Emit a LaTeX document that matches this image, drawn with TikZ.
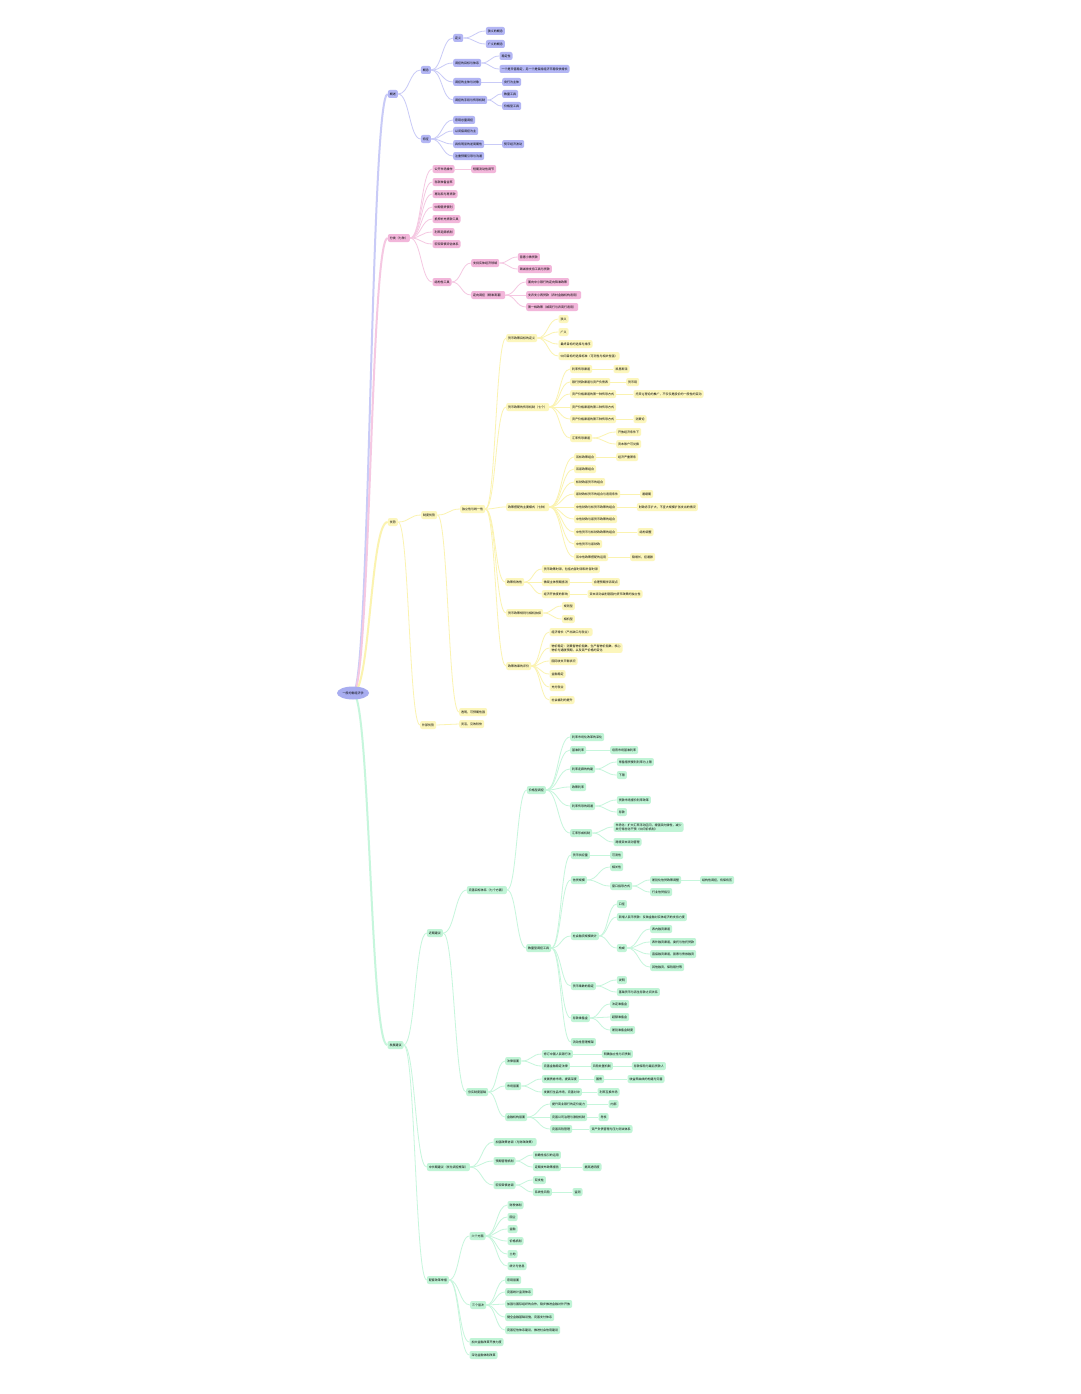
\documentclass[tikz,border=0pt]{standalone}
\usepackage{fontspec}
\setmainfont{Noto Sans CJK SC}
\usetikzlibrary{calc,shapes.geometric}
\pgfdeclarelayer{back}
\pgfdeclarelayer{bg}
\pgfsetlayers{back,bg,main}
\definecolor{bF}{HTML}{B3B6F4}
\definecolor{bE}{HTML}{C9CBF7}
\definecolor{pF}{HTML}{F2B6DA}
\definecolor{pE}{HTML}{F5C8E2}
\definecolor{yF}{HTML}{FCF6BC}
\definecolor{yE}{HTML}{FBF3B0}
\definecolor{gF}{HTML}{C0F4D6}
\definecolor{gE}{HTML}{C6F6DC}
\definecolor{rootF}{HTML}{A8ADF0}
\newcommand\fs{\fontsize{3}{3.8}\selectfont}
\newcommand\lnk[3]{\draw[#1] let \p1=(#2.east),\p2=(#3.west),\n1={0.5*(\x2-\x1)} in (\p1) .. controls +(\n1,0pt) and +(-\n1,0pt) .. (\p2);}
\newcommand\rlnk[3]{\draw[#1] let \p1=(#2.center),\p2=(#3.west),\n1={0.5*(\x2-\x1)} in (\p1) .. controls +(\n1,0pt) and +(-\n1,0pt) .. (\p2);}
\tikzset{
 base/.style={anchor=west, rounded corners=2pt, inner xsep=2pt, inner ysep=0pt, minimum height=8pt, font=\fs, text=black},
 two/.style={align=left, inner ysep=1.5pt},
 bn/.style={base, fill=bF},
 pn/.style={base, fill=pF},
 yn/.style={base, fill=yF},
 gn/.style={base, fill=gF},
 be/.style={draw=bE, line width=0.8pt},
 pe/.style={draw=pE, line width=0.8pt},
 ye/.style={draw=yE, line width=0.8pt},
 ge/.style={draw=gE, line width=0.8pt},
}
\begin{document}
\begin{tikzpicture}[x=1pt,y=-1pt]
\useasboundingbox (0,0) rectangle (1080,1394);
\begin{pgfonlayer}{back}
\fill[white] (0,0) rectangle (1080,1394);
\end{pgfonlayer}
% root
\node[ellipse, fill=rootF, minimum width=32pt, minimum height=13pt, inner sep=0pt, font=\fs] (root) at (353,693) {一般均衡经济学};
% ---------- blue
\node[bn] (B1) at (387.7,94) {概述};
\node[bn] (B2a) at (420.7,70) {概念};
\node[bn] (B2b) at (420.7,139) {特征};
\node[bn] (B3a) at (453,38) {定义};
\node[bn] (B3b) at (453,63) {调控的目标与体系};
\node[bn] (B3c) at (453,82) {调控的主体与对象};
\node[bn] (B3d) at (453,100) {调控的手段与传导机制};
\node[bn] (B4a) at (485.7,31) {狭义的概念};
\node[bn] (B4b) at (485.7,44) {广义的概念};
\node[bn] (B4c) at (499.3,56) {稳定性};
\node[bn] (B4d) at (499.3,69) {一个是币值稳定，另一个是保持经济平稳较快增长};
\node[bn] (B4e) at (502,82) {央行为主体};
\node[bn] (B4f) at (502,94) {数量工具};
\node[bn] (B4g) at (502,106) {价格型工具};
\node[bn] (B3e) at (453,120) {宏观总量调控};
\node[bn] (B3f) at (453,131) {以间接调控为主};
\node[bn] (B3g) at (453,144) {具有明显的逆周期性};
\node[bn] (B3h) at (453,156) {注重预期引导与沟通};
\node[bn] (B4h) at (502,144) {熨平经济波动};
% ---------- pink
\node[pn] (P1) at (387.7,238) {分类（七种）};
\node[pn] (P2a) at (432.3,169) {公开市场操作};
\node[pn] (P2b) at (432.3,182) {存款准备金率};
\node[pn] (P2c) at (432.3,194) {再贴现与再贷款};
\node[pn] (P2d) at (432.3,207) {中期借贷便利};
\node[pn] (P2e) at (432.3,219) {抵押补充贷款工具};
\node[pn] (P2f) at (432.3,232) {利率走廊机制};
\node[pn] (P2g) at (432.3,244) {宏观审慎评估体系};
\node[pn] (P2h) at (432.3,282) {结构性工具};
\node[pn] (P3a) at (471,169) {短期流动性调节};
\node[pn] (P3b) at (471,263) {支持实体经济领域};
\node[pn] (P3c) at (471,295) {定向调控（精准滴灌）};
\node[pn] (P4a) at (517.7,257) {普惠小微贷款};
\node[pn] (P4b) at (517.7,269) {碳减排支持工具与贷款};
\node[pn] (P4c) at (526,282) {面向中小银行的定向降准政策};
\node[pn] (P4d) at (526,295) {支农支小再贷款（农村金融机构适用）};
\node[pn] (P4e) at (526,307) {第一档政策（城商行与农商行适用）};
% ---------- yellow
\node[yn] (Y1) at (387.7,522) {优势};
\node[yn] (Y2a) at (421,515) {制度优势};
\node[yn] (Y2b) at (420,725) {外部优势};
\node[yn] (Y3a) at (460,509) {独立性与统一性};
\node[yn] (Y3b) at (459,712) {透明，可预期性强};
\node[yn] (Y3c) at (459,724) {灵活，见效较快};
\node[yn] (Y4a) at (506,338) {货币政策目标的定义};
\node[yn] (Y5a) at (558.3,319) {狭义};
\node[yn] (Y5b) at (558.3,332) {广义};
\node[yn] (Y5c) at (558.3,344) {最终目标的选择与排序};
\node[yn] (Y5d) at (558.3,356) {中间目标的选择标准（可测性与相关性强）};
\node[yn] (Y4b) at (506,407) {货币政策的传导机制（七个）};
\node[yn] (Y5e) at (570,369) {利率传导渠道};
\node[yn] (Y5f) at (570,382) {银行贷款渠道与资产负债表};
\node[yn] (Y5g) at (570,394) {资产价格渠道的第一种传导方式};
\node[yn] (Y5h) at (570,407) {资产价格渠道的第二种传导方式};
\node[yn] (Y5i) at (570,419) {资产价格渠道的第三种传导方式};
\node[yn] (Y5j) at (570,438) {汇率传导渠道};
\node[yn] (Y6a) at (613.3,369) {凯恩斯派};
\node[yn] (Y6b) at (626,382) {货币观};
\node[yn] (Y6c) at (633.3,394) {托宾Ｑ理论的推广，不仅仅是股价的一般性的变动};
\node[yn] (Y6d) at (633.3,419) {消费论};
\node[yn] (Y6e) at (616,432) {开放经济条件下};
\node[yn] (Y6f) at (616,444) {资本账户可兑换};
\node[yn] (Y4c) at (506,507) {政策搭配的主要模式（七种）};
\node[yn] (Y5k) at (574,457) {双松政策组合};
\node[yn] (Y5l) at (574,469) {双紧政策组合};
\node[yn] (Y5m) at (574,482) {松财政紧货币的组合};
\node[yn] (Y5n) at (574,494) {紧财政松货币的组合与适用条件};
\node[yn] (Y5o) at (574,507) {中性财政与松货币政策的组合};
\node[yn] (Y5p) at (574,519) {中性财政与紧货币政策的组合};
\node[yn] (Y5q) at (574,532) {中性货币与松财政政策的组合};
\node[yn] (Y5r) at (574,544) {中性货币与紧财政};
\node[yn] (Y5s) at (574,557) {双中性政策搭配的运用};
\node[yn] (Y6g) at (616,457) {经济严重萧条};
\node[yn] (Y6h) at (640,494) {通缩期};
\node[yn] (Y6i) at (636.7,507) {财政赤字扩大，不宜大规模扩张支出的情况};
\node[yn] (Y6j) at (637.3,532) {结构调整};
\node[yn] (Y6k) at (630,557) {稳增长，控通胀};
\node[yn] (Y4d) at (505,582) {政策有效性};
\node[yn] (Y5t) at (541.7,569) {货币政策时滞，包括内部时滞和外部时滞};
\node[yn] (Y5u) at (541.7,582) {微观主体预期抵消};
\node[yn] (Y5v) at (541.7,594) {经济开放度的影响};
\node[yn] (Y6l) at (591.7,582) {合理预期学派观点};
\node[yn] (Y6m) at (587.3,594) {资本流动会削弱国内货币政策的独立性};
\node[yn] (Y4e) at (506,613) {货币政策规则与相机抉择};
\node[yn] (Y5w) at (561.7,606) {规则型};
\node[yn] (Y5x) at (561.7,619) {相机型};
\node[yn] (Y4f) at (506,666) {政策效果的评价};
\node[yn] (Y5y) at (549.3,632) {经济增长（产出缺口与就业）};
\node[yn,two] (Y5z) at (549.3,648) {物价稳定：消费者物价指数、生产者物价指数、核心\\物价与通胀预期，以及资产价格的变化};
\node[yn] (Y5aa) at (549.3,661) {国际收支平衡状况};
\node[yn] (Y5ab) at (549.3,674) {金融稳定};
\node[yn] (Y5ac) at (549.3,687) {充分就业};
\node[yn] (Y5ad) at (549.3,700) {社会福利的提升};
% ---------- green
\node[gn] (G1) at (387.3,1045) {发展建议};
\node[gn] (G2a) at (426.7,933) {近期建议};
\node[gn] (G2b) at (426.7,1167) {中长期建议（优化调控框架）};
\node[gn] (G2c) at (426.7,1280) {配套改革举措};
\node[gn] (G3a) at (466.7,890) {完善目标体系（七个方面）};
\node[gn] (G3b) at (466,1092) {夯实制度基础};
\node[gn] (G4a) at (526.7,790) {价格型调控};
\node[gn] (G5a) at (570,737) {利率市场化改革的深化};
\node[gn] (G5b) at (570,750) {基准利率};
\node[gn] (G5c) at (570,769) {利率走廊的构建};
\node[gn] (G5d) at (570,787) {政策利率};
\node[gn] (G5e) at (570,806) {利率传导的疏通};
\node[gn] (G5f) at (570,833) {汇率形成机制};
\node[gn] (G6a) at (610,750) {培育市场基准利率};
\node[gn] (G6b) at (616.7,762) {常备借贷便利利率为上限};
\node[gn] (G6c) at (616.7,775) {下限};
\node[gn] (G6d) at (616.7,800) {贷款市场报价利率改革};
\node[gn] (G6e) at (616.7,812) {存款};
\node[gn,two] (G6f) at (613.3,827) {市场化：扩大汇率浮动区间，增强双向弹性，减少\\央行常态化干预（中间价机制）};
\node[gn] (G6g) at (613.3,842) {跨境资本流动管理};
\node[gn] (G4b) at (526,948) {数量型调控工具};
\node[gn] (G5g) at (570.7,855) {货币供应量};
\node[gn] (G5h) at (570.7,880) {信贷规模};
\node[gn] (G5i) at (570.7,936) {社会融资规模统计};
\node[gn] (G5j) at (570.7,986) {货币乘数的稳定};
\node[gn] (G5k) at (570.7,1018) {存款准备金};
\node[gn] (G5l) at (570.7,1042) {流动性管理框架};
\node[gn] (G6h) at (610,855) {可测性};
\node[gn] (G6i) at (610,867) {相关性};
\node[gn] (G6j) at (610,886) {窗口指导方式};
\node[gn] (G7a) at (650,880) {差别化信贷政策调整};
\node[gn] (G7b) at (650,892) {行业信贷指引};
\node[gn] (G8a) at (700,880) {结构性调控，有保有压};
\node[gn] (G6k) at (616.7,904) {口径};
\node[gn] (G6l) at (616.7,917) {新增人民币贷款：反映金融对实体经济的支持力度};
\node[gn] (G6m) at (616.7,948) {构成};
\node[gn] (G7c) at (650,929) {表内融资渠道};
\node[gn] (G7d) at (650,942) {表外融资渠道，委托与信托贷款};
\node[gn] (G7e) at (650,954) {直接融资渠道，股票与债券融资};
\node[gn] (G7f) at (650,967) {其他融资，保险赔付等};
\node[gn] (G6n) at (616.7,980) {说明};
\node[gn] (G6o) at (616.7,992) {基础货币与派生存款之间关系};
\node[gn] (G6p) at (610,1004) {法定准备金};
\node[gn] (G6q) at (610,1017) {超额准备金};
\node[gn] (G6r) at (610,1030) {差别准备金制度};
\node[gn] (G4c) at (505,1061) {法律层面};
\node[gn] (G4d) at (505,1086) {市场层面};
\node[gn] (G4e) at (505,1117) {金融机构层面};
\node[gn] (G5m) at (541.7,1054) {修订中国人民银行法};
\node[gn] (G5n) at (541.7,1066) {完善金融稳定法律};
\node[gn] (G5o) at (541.7,1079) {发展债券市场，提高深度};
\node[gn] (G5p) at (541.7,1092) {发展衍生品市场，完善对冲};
\node[gn] (G5q) at (550,1104) {提升商业银行的定价能力};
\node[gn] (G5r) at (550,1117) {完善公司治理与激励机制};
\node[gn] (G5s) at (550,1129) {完善风险管理};
\node[gn] (G6s) at (601.7,1054) {明确独立性与问责制};
\node[gn] (G6t) at (590.7,1066) {风险处置机制};
\node[gn] (G6u) at (594,1079) {国债};
\node[gn] (G6v) at (597.3,1092) {利率互换市场};
\node[gn] (G6w) at (608.3,1104) {内部};
\node[gn] (G6x) at (598.3,1117) {考核};
\node[gn] (G6y) at (589.3,1129) {资产负债管理与压力测试体系};
\node[gn] (G7g) at (631.7,1066) {存款保险与最后贷款人};
\node[gn] (G7h) at (627.3,1079) {收益率曲线的构建与完善};
\node[gn] (G3c) at (493.3,1142) {加强政策协调（与财政政策）};
\node[gn] (G3d) at (493.3,1161) {预期管理机制};
\node[gn] (G3e) at (493.3,1185) {宏观审慎协调};
\node[gn] (G4f) at (532.7,1155) {前瞻性指引的运用};
\node[gn] (G4g) at (532.7,1167) {定期发布政策报告};
\node[gn] (G4h) at (532.7,1180) {双支柱};
\node[gn] (G4i) at (532.7,1192) {系统性风险};
\node[gn] (G5t) at (582.3,1167) {提高透明度};
\node[gn] (G5u) at (572.3,1192) {监测};
\node[gn] (G3f) at (469.3,1236) {六个方面};
\node[gn] (G3g) at (470,1305) {三个层次};
\node[gn] (G3h) at (469.3,1342) {加大金融改革开放力度};
\node[gn] (G3i) at (469.3,1355) {深化金融体制改革};
\node[gn] (G4j) at (507.3,1205) {财税体制};
\node[gn] (G4k) at (507.3,1217) {国企};
\node[gn] (G4l) at (507.3,1229) {金融};
\node[gn] (G4m) at (507.3,1241) {价格机制};
\node[gn] (G4n) at (507.3,1254) {土地};
\node[gn] (G4o) at (507.3,1266) {统计与信息};
\node[gn] (G4p) at (505,1280) {宏观层面};
\node[gn] (G4q) at (505,1292) {完善统计监测体系};
\node[gn] (G4r) at (505,1304) {加强与国际组织的合作，稳步推进金融对外开放};
\node[gn] (G4s) at (505,1317) {健全金融基础设施，完善支付体系};
\node[gn] (G4t) at (505,1330) {完善征信体系建设，推进社会信用建设};
% ---------- connectors
\begin{pgfonlayer}{bg}
\rlnk{draw=bE,line width=2pt}{root}{B1}
\rlnk{draw=pE,line width=2pt}{root}{P1}
\rlnk{draw=yE,line width=2pt}{root}{Y1}
\rlnk{draw=gE,line width=2pt}{root}{G1}
\foreach \a/\b in {B1/B2a,B1/B2b,B2a/B3a,B2a/B3b,B2a/B3c,B2a/B3d,B3a/B4a,B3a/B4b,B3b/B4c,B3b/B4d,B3c/B4e,B3d/B4f,B3d/B4g,B2b/B3e,B2b/B3f,B2b/B3g,B2b/B3h,B3g/B4h}{\lnk{be}{\a}{\b}}
\foreach \a/\b in {P1/P2a,P1/P2b,P1/P2c,P1/P2d,P1/P2e,P1/P2f,P1/P2g,P1/P2h,P2a/P3a,P2h/P3b,P2h/P3c,P3b/P4a,P3b/P4b,P3c/P4c,P3c/P4d,P3c/P4e}{\lnk{pe}{\a}{\b}}
\foreach \a/\b in {Y1/Y2a,Y1/Y2b,Y2a/Y3a,Y2a/Y3b,Y2b/Y3c,Y3a/Y4a,Y3a/Y4b,Y3a/Y4c,Y3a/Y4d,Y3a/Y4e,Y3a/Y4f,Y4a/Y5a,Y4a/Y5b,Y4a/Y5c,Y4a/Y5d,Y4b/Y5e,Y4b/Y5f,Y4b/Y5g,Y4b/Y5h,Y4b/Y5i,Y4b/Y5j,Y5e/Y6a,Y5f/Y6b,Y5g/Y6c,Y5i/Y6d,Y5j/Y6e,Y5j/Y6f,Y4c/Y5k,Y4c/Y5l,Y4c/Y5m,Y4c/Y5n,Y4c/Y5o,Y4c/Y5p,Y4c/Y5q,Y4c/Y5r,Y4c/Y5s,Y5k/Y6g,Y5n/Y6h,Y5o/Y6i,Y5q/Y6j,Y5s/Y6k,Y4d/Y5t,Y4d/Y5u,Y4d/Y5v,Y5u/Y6l,Y5v/Y6m,Y4e/Y5w,Y4e/Y5x,Y4f/Y5y,Y4f/Y5z,Y4f/Y5aa,Y4f/Y5ab,Y4f/Y5ac,Y4f/Y5ad}{\lnk{ye}{\a}{\b}}
\foreach \a/\b in {G1/G2a,G1/G2b,G1/G2c,G2a/G3a,G2a/G3b,G3a/G4a,G3a/G4b,G4a/G5a,G4a/G5b,G4a/G5c,G4a/G5d,G4a/G5e,G4a/G5f,G5b/G6a,G5c/G6b,G5c/G6c,G5e/G6d,G5e/G6e,G5f/G6f,G5f/G6g,G4b/G5g,G4b/G5h,G4b/G5i,G4b/G5j,G4b/G5k,G4b/G5l,G5g/G6h,G5h/G6i,G5h/G6j,G6j/G7a,G6j/G7b,G7a/G8a,G5i/G6k,G5i/G6l,G5i/G6m,G6m/G7c,G6m/G7d,G6m/G7e,G6m/G7f,G5j/G6n,G5j/G6o,G5k/G6p,G5k/G6q,G5k/G6r,G3b/G4c,G3b/G4d,G3b/G4e,G4c/G5m,G4c/G5n,G5m/G6s,G5n/G6t,G6t/G7g,G4d/G5o,G4d/G5p,G5o/G6u,G6u/G7h,G5p/G6v,G4e/G5q,G4e/G5r,G4e/G5s,G5q/G6w,G5r/G6x,G5s/G6y,G2b/G3c,G2b/G3d,G2b/G3e,G3d/G4f,G3d/G4g,G4g/G5t,G3e/G4h,G3e/G4i,G4i/G5u,G2c/G3f,G2c/G3g,G2c/G3h,G2c/G3i,G3f/G4j,G3f/G4k,G3f/G4l,G3f/G4m,G3f/G4n,G3f/G4o,G3g/G4p,G3g/G4q,G3g/G4r,G3g/G4s,G3g/G4t}{\lnk{ge}{\a}{\b}}
\end{pgfonlayer}
\end{tikzpicture}
\end{document}
